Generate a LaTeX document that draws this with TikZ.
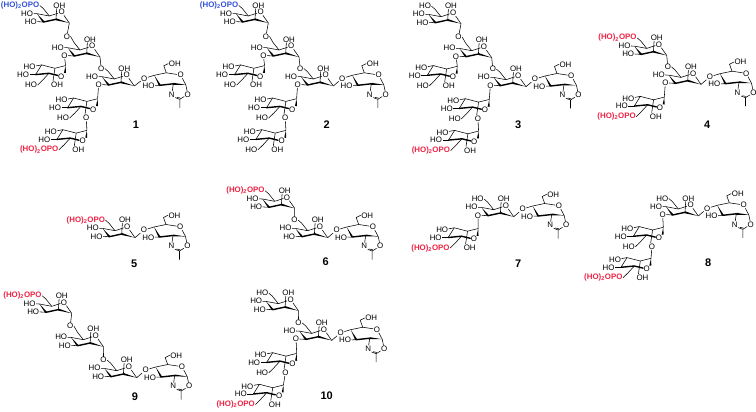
\documentclass[tikz,border=0pt]{standalone}
\usepackage{fontspec}
\setmainfont{Liberation Sans}
\usetikzlibrary{calc}
\definecolor{phosred}{HTML}{EE2344}
\definecolor{phosblue}{HTML}{3350D8}
\newcommand{\phosp}{(HO)\textsubscript{2}OPO}
\newcommand{\wedgebond}[2]{\fill (#1) -- ($(#2)!1pt!90:(#1)$) -- ($(#2)!1pt!-90:(#1)$) -- cycle;}
\tikzset{
	atom/.style={inner sep=0.3pt,font=\fontsize{7.9}{8}\selectfont},
	armo/.style={atom,yshift=3.2pt},
	phred/.style={atom,text=phosred,font=\fontsize{7.9}{8}\selectfont\bfseries},
	phblue/.style={atom,text=phosblue,font=\fontsize{7.9}{8}\selectfont\bfseries},
	numlabel/.style={inner sep=0pt,font=\fontsize{11}{12}\selectfont\bfseries},
	fatbond/.style={line width=1.4pt,line cap=round},
	pics/mana/.style n args={3}{code={
		\coordinate (-c1) at (0,0);
		\coordinate (-c2) at (-13.3,-3.7);
		\coordinate (-c3) at (-25.7,-1);
		\coordinate (-c4) at (-32.3,-9.3);
		\coordinate (-c5) at (-20,-7);
		\coordinate (-c6) at (-26,-14.5);
		\node[atom] (-o5) at (-7.7,-11) {O};
		\node[atom] (-o2) at (-10,-17.7) {OH};
		\node[atom,anchor=east] (-o4) at (-35.7,-9.6) {HO};
		\node[#2,anchor=east] (-o6) at (-29.5,-17.5) {#1};
		\node[atom,anchor=east] (-o3) at (-32,-1.4) {#3};
		\draw (-c4) -- (-c5) -- (-o5) -- (-c1);
		\draw (-c5) -- (-c6) -- (-o6.east);
		\draw (-c2) -- (-12.6,-14.5);
		\draw (-c4) -- (-o4);
		\draw (-c3) -- (-o3.east);
		\wedgebond{-c4}{-c3}
		\wedgebond{-c1}{-c2}
		\draw[fatbond] (-c3) -- (-c2);
	}},
	pics/manb/.style n args={3}{code={
		\coordinate (-c1) at (0,0);
		\coordinate (-c2) at (-10.7,2.7);
		\coordinate (-c3) at (-24,-0.7);
		\coordinate (-c4) at (-30,9);
		\coordinate (-c5) at (-16.7,7.7);
		\coordinate (-c6) at (-22.7,14.3);
		\node[atom] (-o5) at (-4.3,10.7) {O};
		\node[atom,anchor=east] (-o3) at (-29.5,1.5) {HO};
		\node[atom,anchor=east] (-o4) at (-36,9) {HO};
		\node[atom,anchor=west] (-o2) at (-15,19.3) {#1};
		\node[#3,anchor=east] (-o6) at (-28,19.5) {#2};
		\draw (-c1) -- (-c2) -- (-c3) -- (-c4);
		\draw (-c2) -- (-12.6,15.6);
		\draw (-c3) -- (-o3);
		\draw (-c4) -- (-o4);
		\draw (-c5) -- (-c6) -- (-o6.east);
		\draw[fatbond] (-c4) -- (-c5) -- (-o5);
		\wedgebond{-c1}{-o5.north east}
	}},
	pics/oxaz/.style={code={
		\node[atom] (-l) at (0,0) {O};
		\coordinate (-c4) at (10,-3);
		\coordinate (-c5) at (22,-5.5);
		\coordinate (-c6) at (19.5,-12.5);
		\coordinate (-c3) at (15.5,7);
		\coordinate (-c2) at (29,5.5);
		\coordinate (-c1) at (41.5,6.5);
		\coordinate (-cn) at (35.5,21);
		\coordinate (-me) at (35.5,29.5);
		\node[atom] (-o5) at (36.3,-3.3) {O};
		\node[atom,anchor=west] (-oh) at (24,-14.7) {OH};
		\node[atom,anchor=east] (-ho) at (10.8,7.3) {HO};
		\node[atom] (-n) at (27.5,16) {N};
		\node[atom] (-ox) at (43.5,16) {O};
		\draw (-l) -- (-c4) -- (-c5) -- (-o5) -- (-c1) -- (-ox) -- (-cn) -- (-me);
		\draw (-c5) -- (-c6) -- (-oh.west);
		\draw (-c3) -- (-ho);
		\draw (-c2) -- (-n);
		\draw (-n.south east) -- (-cn);
		\draw ([shift={(1.6,-0.3)}]-n.south east) -- ([shift={(0.7,-1.2)}]-cn);
		\wedgebond{-c4}{-c3}
		\wedgebond{-c1}{-c2}
		\draw[fatbond] (-c3) -- (-c2);
	}},
}
\begin{document}
\begin{tikzpicture}[x=1pt,y=-1pt,line width=0.55pt]
	\useasboundingbox (0,0) rectangle (756,412);
	% compound 1
	\begin{scope}[shift={(143.3,78.3)}]
		\pic (gn1) at (1,0) {oxaz};
		\pic (core1) at (-9,7.7) {mana={O}{atom}{O}};
		\pic (arm1) at (-43.3,-21.3) {mana={O}{armo}{O}};
		\pic (top1) at (-74,-55.3) {mana={\phosp}{phblue}{HO}};
		\pic (side1) at (-77.7,-12.7) {manb={OH}{HO}{atom}};
		\pic (low1) at (-45.7,20.4) {manb={O}{HO}{atom}};
		\pic (end1) at (-56.4,52.1) {manb={OH}{\phosp}{phred}};
		\draw (core1-c1) -- (gn1-l);
		\draw (core1-o6) -- (arm1-c1);
		\draw (arm1-o6) -- (top1-c1);
		\draw (arm1-o3) -- (side1-c1);
		\draw (core1-o3) -- (low1-c1);
		\draw (low1-o2) -- (end1-c1);
	\end{scope}
	\node[numlabel] (num1) at (136,124.3) {1};
	% compound 2
	\begin{scope}[shift={(342.3,78.3)}]
		\pic (gn2) at (0,0) {oxaz};
		\pic (core2) at (-9,7.7) {mana={O}{atom}{O}};
		\pic (arm2) at (-43.3,-21.3) {mana={O}{armo}{O}};
		\pic (top2) at (-74,-55.3) {mana={\phosp}{phblue}{HO}};
		\pic (side2) at (-77.7,-12.7) {manb={OH}{HO}{atom}};
		\pic (low2) at (-45.7,20.4) {manb={O}{HO}{atom}};
		\pic (end2) at (-56.4,52.1) {manb={OH}{HO}{atom}};
		\draw (core2-c1) -- (gn2-l);
		\draw (core2-o6) -- (arm2-c1);
		\draw (arm2-o6) -- (top2-c1);
		\draw (arm2-o3) -- (side2-c1);
		\draw (core2-o3) -- (low2-c1);
		\draw (low2-o2) -- (end2-c1);
	\end{scope}
	\node[numlabel] (num2) at (326.7,124.3) {2};
	% compound 3
	\begin{scope}[shift={(535,79)}]
		\pic (gn3) at (0,0) {oxaz};
		\pic (core3) at (-9,7.7) {mana={O}{atom}{O}};
		\pic (arm3) at (-43.3,-21.3) {mana={O}{armo}{O}};
		\pic (top3) at (-74,-55.3) {mana={HO}{atom}{HO}};
		\pic (side3) at (-77.7,-12.7) {manb={OH}{HO}{atom}};
		\pic (low3) at (-45.7,20.4) {manb={O}{HO}{atom}};
		\pic (end3) at (-56.4,52.1) {manb={OH}{\phosp}{phred}};
		\draw (core3-c1) -- (gn3-l);
		\draw (core3-o6) -- (arm3-c1);
		\draw (arm3-o6) -- (top3-c1);
		\draw (arm3-o3) -- (side3-c1);
		\draw (core3-o3) -- (low3-c1);
		\draw (low3-o2) -- (end3-c1);
	\end{scope}
	\node[numlabel] (num3) at (518.3,125) {3};
	% compound 4
	\begin{scope}[shift={(710,76.7)}]
		\pic (gn4) at (0,0) {oxaz};
		\pic (core4) at (-9,7.7) {mana={O}{atom}{O}};
		\pic (arm4) at (-43.3,-21.3) {mana={\phosp}{phred}{HO}};
		\pic (low4) at (-45.7,20.4) {manb={OH}{\phosp}{phred}};
		\draw (core4-c1) -- (gn4-l);
		\draw (core4-o6) -- (arm4-c1);
		\draw (core4-o3) -- (low4-c1);
	\end{scope}
	\node[numlabel] (num4) at (707.3,125) {4};
	% compound 5
	\begin{scope}[shift={(144,230)}]
		\pic (gn5) at (0,0) {oxaz};
		\pic (core5) at (-9,7.7) {mana={\phosp}{phred}{HO}};
		\draw (core5-c1) -- (gn5-l);
	\end{scope}
	\node[numlabel] (num5) at (134.3,263.3) {5};
	% compound 6
	\begin{scope}[shift={(336.7,230)}]
		\pic (gn6) at (0,0) {oxaz};
		\pic (core6) at (-9,7.7) {mana={O}{atom}{HO}};
		\pic (arm6) at (-42,-21.7) {mana={\phosp}{phred}{HO}};
		\draw (core6-c1) -- (gn6-l);
		\draw (core6-o6) -- (arm6-c1);
	\end{scope}
	\node[numlabel] (num6) at (325.7,261.7) {6};
	% compound 7
	\begin{scope}[shift={(522.7,209)}]
		\pic (gn7) at (0,0) {oxaz};
		\pic (core7) at (-9,7.7) {mana={HO}{atom}{O}};
		\pic (low7) at (-44.5,19.5) {manb={OH}{\phosp}{phred}};
		\draw (core7-c1) -- (gn7-l);
		\draw (core7-o3) -- (low7-c1);
	\end{scope}
	\node[numlabel] (num7) at (518.3,263.3) {7};
	% compound 8
	\begin{scope}[shift={(707.3,208.3)}]
		\pic (gn8) at (0,0) {oxaz};
		\pic (core8) at (-9,7.7) {mana={HO}{atom}{O}};
		\pic (low8) at (-44,19) {manb={O}{HO}{atom}};
		\pic (end8) at (-56.3,50) {manb={OH}{\phosp}{phred}};
		\draw (core8-c1) -- (gn8-l);
		\draw (core8-o3) -- (low8-c1);
		\draw (low8-o2) -- (end8-c1);
	\end{scope}
	\node[numlabel] (num8) at (708.3,262.7) {8};
	% compound 9
	\begin{scope}[shift={(145.7,370)}]
		\pic (gn9) at (0,0) {oxaz};
		\pic (core9) at (-9,7.7) {mana={O}{atom}{HO}};
		\pic (arm9) at (-42.3,-23.3) {mana={O}{armo}{HO}};
		\pic (top9) at (-74,-56.7) {mana={\phosp}{phred}{HO}};
		\draw (core9-c1) -- (gn9-l);
		\draw (core9-o6) -- (arm9-c1);
		\draw (arm9-o6) -- (top9-c1);
	\end{scope}
	\node[numlabel] (num9) at (135,396.7) {9};
	% compound 10
	\begin{scope}[shift={(340.7,332.7)}]
		\pic (gn10) at (0,0) {oxaz};
		\pic (core10) at (-9,7.7) {mana={O}{atom}{O}};
		\pic (arm10) at (-42.3,-22) {mana={HO}{atom}{HO}};
		\pic (low10) at (-44,20.7) {manb={O}{HO}{atom}};
		\pic (end10) at (-57.3,52.3) {manb={OH}{\phosp}{phred}};
		\draw (core10-c1) -- (gn10-l);
		\draw (core10-o6) -- (arm10-c1);
		\draw (core10-o3) -- (low10-c1);
		\draw (low10-o2) -- (end10-c1);
	\end{scope}
	\node[numlabel] (num10) at (326.7,395.7) {10};
\end{tikzpicture}
\end{document}
